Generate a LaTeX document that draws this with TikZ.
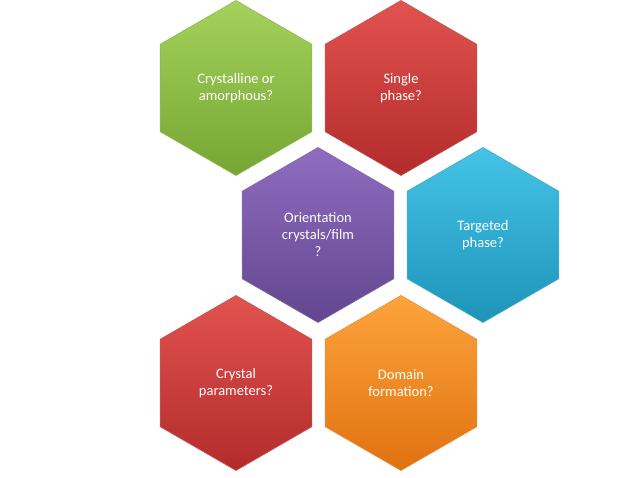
\documentclass[tikz,border=0pt]{standalone}
\usepackage{fontspec}
\setmainfont{Carlito}
\begin{document}
\begin{tikzpicture}[x=1pt,y=-1pt,
  lbl/.style={text=white,align=center,font=\fontsize{14.5}{17}\selectfont}]
\useasboundingbox[fill=white] (0,0) rectangle (638,478);
\newcommand{\hexa}[5]{%
  \shade[top color=#3,bottom color=#4,draw=#4!80!white,line width=0.6pt]
    (#1,#2-87.5) -- (#1+75.8,#2-43.75) -- (#1+75.8,#2+43.75) -- (#1,#2+87.5)
    -- (#1-75.8,#2+43.75) -- (#1-75.8,#2-43.75) -- cycle;
  \node[lbl] (#5) at (#1,#2) {\csname txt#5\endcsname};}
\newcommand{\txta}{Crystalline or\\amorphous?}
\newcommand{\txtb}{Single\\phase?}
\newcommand{\txtc}{Orientation\\crystals/film\\?}
\newcommand{\txtd}{Targeted\\phase?}
\newcommand{\txte}{Crystal\\parameters?}
\newcommand{\txtf}{Domain\\formation?}
\definecolor{gt}{HTML}{A4D25C}\definecolor{gb}{HTML}{76A533}
\definecolor{rt}{HTML}{E2534F}\definecolor{rb}{HTML}{B22B2B}
\definecolor{pt}{HTML}{8F6CC0}\definecolor{pb}{HTML}{62468E}
\definecolor{ct}{HTML}{44C4E8}\definecolor{cb}{HTML}{1E93B8}
\definecolor{ot}{HTML}{FDA43C}\definecolor{ob}{HTML}{E07210}
\hexa{236}{88}{gt}{gb}{a}
\hexa{401}{88}{rt}{rb}{b}
\hexa{318}{235}{pt}{pb}{c}
\hexa{483}{235}{ct}{cb}{d}
\hexa{236}{383}{rt}{rb}{e}
\hexa{401}{383}{ot}{ob}{f}
\end{tikzpicture}
\end{document}
